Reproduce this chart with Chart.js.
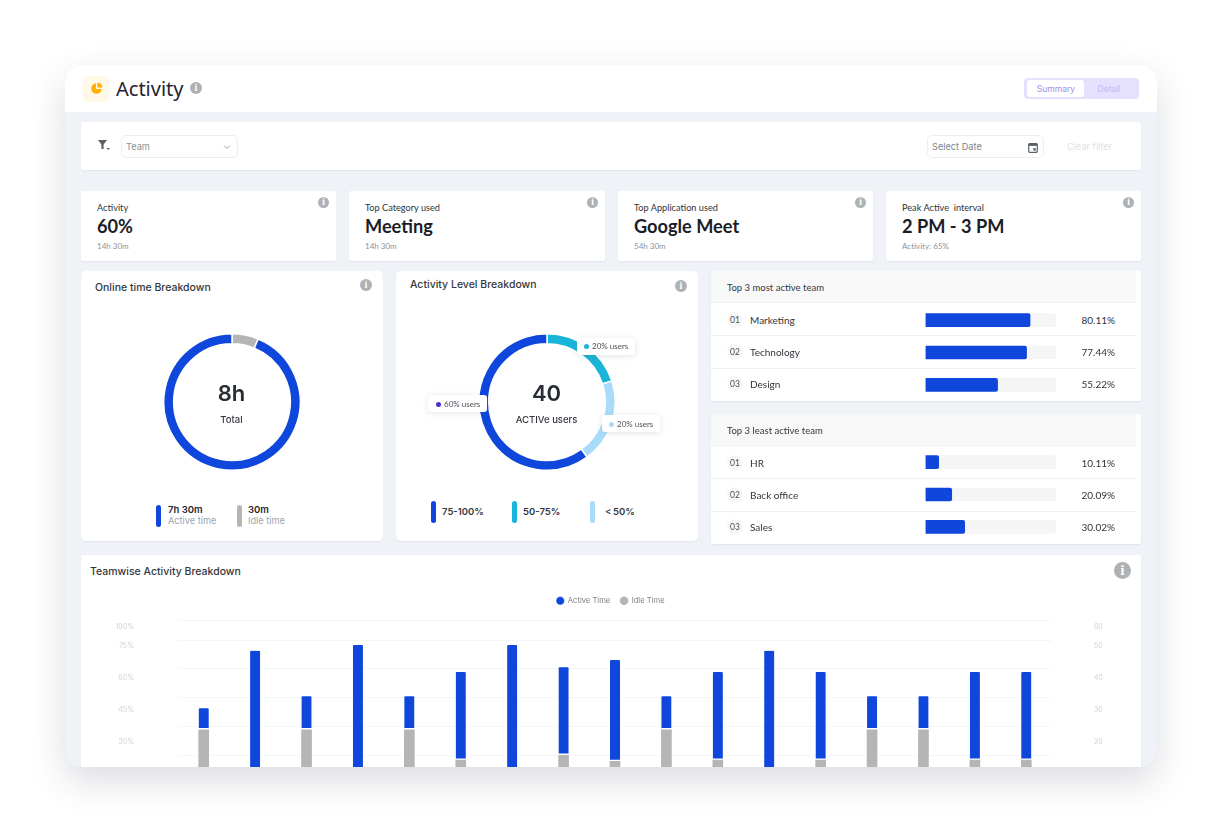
<!DOCTYPE html>
<html>
<head>
<meta charset="utf-8">
<title>Activity</title>
<script src="https://cdn.jsdelivr.net/npm/chart.js@4"></script>
<style>
    html, body { margin: 0; padding: 0; background: #fff; width: 1223px; height: 833px; overflow: hidden; }
    body { font-family: Inter, sans-serif; color: #23272e; }
    #panel { position: absolute; left: 65px; top: 65px; width: 1092px; height: 702px; background: #eff2f7; border-radius: 18px; box-shadow: 0 14px 36px rgba(30, 40, 60, .16); }
    #clip { position: absolute; left: 0; top: 0; width: 1092px; height: 702px; overflow: hidden; border-radius: 18px; }
    #stage { position: absolute; left: -65px; top: -65px; width: 1223px; height: 900px; }
    .box { position: absolute; background: #fff; box-shadow: 0 1px 2px rgba(60, 70, 90, .07); border-radius: 2px; }
    .t { position: absolute; white-space: nowrap; line-height: 0; }
    .c { transform: translateX(-50%); }
    .r { transform: translateX(-100%); }
    .lato { font-family: Lato, sans-serif; }
    .label { font-family: Lato, sans-serif; font-size: 9.2px; color: #30343a; }
    .big { font-family: Lato, sans-serif; font-size: 18.2px; font-weight: 700; color: #1b1d26; }
    .small { font-family: Lato, sans-serif; font-size: 8px; color: #8b9399; }
    .title { font-size: 10.5px; font-weight: 500; color: #34373d; }
    .info { position: absolute; border-radius: 50%; background: #aeb2b5; color: #fff; font-family: "Liberation Serif", serif; font-weight: 700; text-align: center; }
    .pill { position: absolute; width: 5px; height: 22px; border-radius: 3px; }
    .field { position: absolute; top: 135px; height: 21px; border: 1px solid #eceef1; border-radius: 5px; background: #fff; }
    .badge { position: absolute; height: 17px; background: #fff; border-radius: 3px; box-shadow: 0 1px 6px rgba(70, 90, 120, .16); }
    .dot { position: absolute; width: 5px; height: 5px; border-radius: 50%; }
    .badge-text { font-family: Lato, sans-serif; font-size: 8px; color: #4a4f57; }
    .rule { position: absolute; height: 1px; background: #eef0f2; }
    .chip { position: absolute; width: 16px; height: 16px; border-radius: 50%; background: #f7f7f7; }
    canvas { position: absolute; }
</style>
</head>
<body>
<div id="panel"></div>
<div id="clip" style="left:65px;top:65px">
<div id="stage">
    <!-- header -->
    <div style="position:absolute;left:65px;top:65px;width:1092px;height:47px;background:#fff"></div>
    <div style="position:absolute;left:83px;top:76px;width:26px;height:26px;border-radius:5px;background:#fff8e6"></div>
    <svg style="position:absolute;left:90px;top:82px" width="13" height="13" viewBox="0 0 13 13">
        <path d="M6 1.2 A5.3 5.3 0 1 0 11.8 7 L6 7 Z" fill="#ffb000"/>
        <path d="M7.4 .6 A5.2 5.2 0 0 1 12.4 5.6 L7.4 5.6 Z" fill="#ffb000"/>
    </svg>
    <div class="t" style="left:116px;top:89px;font-size:20px;font-weight:400;color:#1f2430;font-family:'Noto Sans',sans-serif">Activity</div>
    <div class="info" style="left:190px;top:82px;width:12px;height:12px;font-size:10px;line-height:12px">i</div>
    <div style="position:absolute;left:1024px;top:78px;width:115px;height:21px;background:#e5e0fd;border-radius:4px"></div>
    <div style="position:absolute;left:1027px;top:80px;width:57px;height:17px;background:#fff;border-radius:3px"></div>
    <div class="t c" style="left:1056px;top:89px;font-size:8.5px;color:#9c8fe6">Summary</div>
    <div class="t c" style="left:1109px;top:89px;font-size:8.5px;color:#c4baf5">Detail</div>

    <!-- filter bar -->
    <div class="box" style="left:81px;top:122px;width:1060px;height:48px"></div>
    <svg style="position:absolute;left:98px;top:140px" width="13" height="12" viewBox="0 0 13 12">
        <path d="M0 0 H9 L5.6 4.4 V9 H3.4 V4.4 Z" fill="#5b6168"/><path d="M8.5 8 H12 L10.2 10 Z" fill="#5b6168"/>
    </svg>
    <div class="field" style="left:121px;width:115px"></div>
    <div class="t" style="left:126px;top:147px;font-size:9.2px;color:#8a9097">Team</div>
    <svg style="position:absolute;left:223px;top:144px" width="8" height="6" viewBox="0 0 8 6"><path d="M1 1.5 L4 4.5 L7 1.5" fill="none" stroke="#9aa0a6" stroke-width="1"/></svg>
    <div class="field" style="left:927px;width:115px"></div>
    <div class="t" style="left:932px;top:147px;font-size:9.2px;color:#7d848b">Select Date</div>
    <svg style="position:absolute;left:1028px;top:142px" width="10" height="11" viewBox="0 0 10 11">
        <rect x=".7" y="1.7" width="8.6" height="8.6" rx="1" fill="none" stroke="#5b6168" stroke-width="1.2"/>
        <rect x=".7" y="1.7" width="8.6" height="2.2" fill="#5b6168"/><rect x="5.4" y="6.2" width="2.4" height="2.4" fill="#5b6168"/>
    </svg>
    <div class="t" style="left:1067px;top:147px;font-size:9.2px;color:#dfe2e6">Clear filter</div>

    <!-- kpi cards -->
    <div class="box" style="left:81px;top:191px;width:255px;height:70px"></div>
    <div class="t label" style="left:97px;top:207.5px">Activity</div>
    <div class="t big" style="left:97px;top:226px">60%</div>
    <div class="t small" style="left:97px;top:246px">14h 30m</div>
    <div class="info" style="left:318px;top:197px;width:11px;height:11px;font-size:9.5px;line-height:11px">i</div>

    <div class="box" style="left:349px;top:191px;width:256px;height:70px"></div>
    <div class="t label" style="left:365px;top:207.5px">Top Category used</div>
    <div class="t big" style="left:365px;top:226px">Meeting</div>
    <div class="t small" style="left:365px;top:246px">14h 30m</div>
    <div class="info" style="left:587px;top:197px;width:11px;height:11px;font-size:9.5px;line-height:11px">i</div>

    <div class="box" style="left:618px;top:191px;width:255px;height:70px"></div>
    <div class="t label" style="left:634px;top:207.5px">Top Application used</div>
    <div class="t big" style="left:634px;top:226px">Google Meet</div>
    <div class="t small" style="left:634px;top:246px">54h 30m</div>
    <div class="info" style="left:855px;top:197px;width:11px;height:11px;font-size:9.5px;line-height:11px">i</div>

    <div class="box" style="left:886px;top:191px;width:255px;height:70px"></div>
    <div class="t label" style="left:902px;top:207.5px">Peak Active&nbsp; interval</div>
    <div class="t big" style="left:902px;top:226px">2 PM - 3 PM</div>
    <div class="t small" style="left:902px;top:246px">Activity: 65%</div>
    <div class="info" style="left:1123px;top:197px;width:11px;height:11px;font-size:9.5px;line-height:11px">i</div>

    <!-- online time -->
    <div class="box" style="left:81px;top:271px;width:302px;height:270px;border-radius:5px"></div>
    <div class="t title" style="left:95px;top:288px">Online time Breakdown</div>
    <div class="info" style="left:360px;top:279px;width:12px;height:12px;font-size:10px;line-height:12px">i</div>
    <canvas id="onlineChart" width="138" height="138" style="left:162.5px;top:333px"></canvas>
    <div class="t c" style="left:231.5px;top:393px;font-size:22px;font-weight:600;color:#282c33">8h</div>
    <div class="t c" style="left:231.5px;top:419.5px;font-size:9.5px;font-weight:500;color:#33373e">Total</div>
    <div class="pill" style="left:156px;top:505px;background:#0f47dd"></div>
    <div class="t" style="left:168px;top:510px;font-size:9.5px;font-weight:600;color:#23272e">7h 30m</div>
    <div class="t" style="left:168px;top:521px;font-size:9.2px;color:#9aa5ae">Active time</div>
    <div class="pill" style="left:237px;top:505px;background:#b5b5b5"></div>
    <div class="t" style="left:248px;top:510px;font-size:9.5px;font-weight:600;color:#23272e">30m</div>
    <div class="t" style="left:248px;top:521px;font-size:9.2px;color:#9aa5ae">Idle time</div>

    <!-- activity level -->
    <div class="box" style="left:396px;top:271px;width:302px;height:270px;border-radius:5px"></div>
    <div class="t title" style="left:410px;top:285px">Activity Level Breakdown</div>
    <div class="info" style="left:675px;top:280px;width:12px;height:12px;font-size:10px;line-height:12px">i</div>
    <canvas id="levelChart" width="138" height="138" style="left:477.5px;top:333px"></canvas>
    <div class="t c" style="left:546.5px;top:393px;font-size:22px;font-weight:600;color:#282c33">40</div>
    <div class="t c" style="left:546.5px;top:419.5px;font-size:9.5px;font-weight:500;color:#33373e">ACTIVe users</div>
    <div class="badge" style="left:428px;top:395px;width:59px"></div>
    <div class="dot" style="left:435.5px;top:401.5px;background:#4a2fd0"></div>
    <div class="t badge-text" style="left:444px;top:404px">60% users</div>
    <div class="badge" style="left:577px;top:338px;width:58px"></div>
    <div class="dot" style="left:583.5px;top:343.5px;background:#19b5d8"></div>
    <div class="t badge-text" style="left:592px;top:346px">20% users</div>
    <div class="badge" style="left:602px;top:415px;width:58px"></div>
    <div class="dot" style="left:609px;top:421.5px;background:#a9dcfb"></div>
    <div class="t badge-text" style="left:617px;top:424px">20% users</div>
    <div class="pill" style="left:431px;top:501px;background:#0f47dd"></div>
    <div class="t" style="left:442px;top:512px;font-size:9.5px;font-weight:600;color:#33373e">75-100%</div>
    <div class="pill" style="left:512px;top:501px;background:#19b5d8"></div>
    <div class="t" style="left:523px;top:512px;font-size:9.5px;font-weight:600;color:#33373e">50-75%</div>
    <div class="pill" style="left:590px;top:501px;background:#a9dcfb"></div>
    <div class="t" style="left:605px;top:512px;font-size:9.5px;font-weight:600;color:#33373e">&lt;&#8201;50%</div>

    <!-- top / least tables -->
    <div id="mostTable" class="box" style="left:711px;top:271px;width:430px;height:130px"></div>
    <div id="leastTable" class="box" style="left:711px;top:414px;width:430px;height:130px"></div>
    <canvas id="mostChart" width="134" height="97" style="left:925px;top:304px"></canvas>
    <canvas id="leastChart" width="134" height="97" style="left:925px;top:446px"></canvas>

    <!-- teamwise -->
    <div class="box" style="left:81px;top:555px;width:1060px;height:260px"></div>
    <div class="t title" style="left:90px;top:572px">Teamwise Activity Breakdown</div>
    <div class="info" style="left:1114px;top:562px;width:17px;height:17px;font-size:14px;line-height:17px">i</div>
    <canvas id="teamChart" width="1061" height="260" style="left:80px;top:556px"></canvas>
</div>
</div>

<script>
    // donuts
    const onlineLabels = ['Idle time', 'Active time'];
    const onlineHours = [0.5, 7.5];
    const levelLabels = ['50-75%', '< 50%', '75-100%'];
    const levelShares = [20, 20, 60];

    // team rankings
    const mostTeams = ['Marketing', 'Technology', 'Design'];
    const mostValues = [80.11, 77.44, 55.22];
    const leastTeams = ['HR', 'Back office', 'Sales'];
    const leastValues = [10.11, 20.09, 30.02];
    const trackValues = [100, 100, 100];

    // teamwise stacked bars, read on the right axis
    const teamCategories = ['T01', 'T02', 'T03', 'T04', 'T05', 'T06', 'T07', 'T08', 'T09', 'T10', 'T11', 'T12', 'T13', 'T14', 'T15', 'T16', 'T17'];
    const activeTime = [6.7, 48.4, 10.5, 50.2, 10.5, 27.6, 50.2, 27.6, 31.7, 10.5, 27.6, 48.4, 27.6, 10.5, 10.5, 27.6, 27.6];
    const idleTime = [23.7, 0, 23.7, 0, 23.7, 14.2, 0, 15.7, 13.8, 23.7, 14.2, 0, 14.2, 23.7, 23.7, 14.2, 14.2];

    // axis ticks (the top label of each axis sits closer than the others in the source)
    const rightTickValues = [20, 30, 40, 50, 55.9];
    const rightTickLabels = ['20', '30', '40', '50', '60'];
    const leftTickValues = [30, 45, 60, 75, 83.85];
    const leftTickLabels = ['30%', '45%', '60%', '75%', '100%'];
    const gridValues = [15.5, 24.7, 33.9, 43, 51.6, 57.9];

    const BLUE = '#0f47dd';
    const GREY = '#b5b5b5';
    const TEAL = '#19b5d8';
    const LIGHT = '#a9dcfb';
    const TRACK = '#f5f5f5';

    Chart.defaults.animation = false;
    Chart.defaults.responsive = false;
    Chart.defaults.plugins.tooltip.enabled = false;

    function drawDonut(id, labels, values, colors) {
        new Chart(document.getElementById(id), {
            type: 'doughnut',
            data: {
                labels: labels,
                datasets: [{ data: values, backgroundColor: colors, borderColor: '#fff', borderWidth: 1.5, hoverOffset: 0 }]
            },
            options: { cutout: '85.5%', plugins: { legend: { display: false } } }
        });
    }

    function drawRanking(id, teams, values) {
        new Chart(document.getElementById(id), {
            type: 'bar',
            data: {
                labels: teams,
                datasets: [
                    { data: values, backgroundColor: BLUE, borderRadius: 2, barThickness: 13, grouped: false, order: 1 },
                    { data: trackValues, backgroundColor: TRACK, borderRadius: 2, barThickness: 13, grouped: false, order: 2 }
                ]
            },
            options: {
                indexAxis: 'y',
                layout: { padding: { left: 0.5, right: 3 } },
                plugins: { legend: { display: false } },
                scales: {
                    x: { display: false, min: 0, max: 100 },
                    y: { display: false }
                }
            }
        });
    }

    // rows of a ranking table, row centres come from the header height
    function fillTable(title, teams, values, top) {
        const stage = document.getElementById('stage');
        const add = (cls, css, text) => {
            const el = document.createElement('div');
            el.className = cls;
            el.style.cssText = css;
            if (text) el.textContent = text;
            stage.appendChild(el);
        };
        add('', `position:absolute;left:711px;top:${top}px;width:425px;height:31px;background:#f8f8f8`);
        add('rule', `left:711px;top:${top + 31}px;width:425px`);
        add('t lato', `left:727px;top:${top + 16.5}px;font-size:9.5px;color:#33373e`, title);
        teams.forEach((team, i) => {
            const y = top + 49 + i * 32;
            if (i > 0) add('rule', `left:711px;top:${top + 31 + i * 33}px;width:425px`);
            add('chip', `left:727px;top:${y - 8}px`);
            add('t c lato', `left:735px;top:${y}px;font-size:8.5px;color:#4a4f57`, '0' + (i + 1));
            add('t lato', `left:750px;top:${y}px;font-size:10px;color:#30343a`, team);
            add('t r lato', `left:1115px;top:${y}px;font-size:10px;color:#30343a`, values[i].toFixed(2) + '%');
        });
    }

    // ticks.padding is also added above and below a vertical axis, so it is removed again here
    function fitAxis(axis, width) {
        axis.width = width;
        axis.paddingTop = 0;
        axis.paddingBottom = 0;
    }

    function drawTeamChart() {
        new Chart(document.getElementById('teamChart'), {
            type: 'bar',
            data: {
                labels: teamCategories,
                datasets: [
                    { label: 'Idle Time', data: idleTime, backgroundColor: GREY, barThickness: 10, yAxisID: 'y', pointStyle: 'circle' },
                    {
                        label: 'Active Time', data: activeTime, backgroundColor: BLUE, barThickness: 10, yAxisID: 'y',
                        borderRadius: 1, borderSkipped: false, borderColor: '#fff',
                        borderWidth: { bottom: 2, top: 0, left: 0, right: 0 }, pointStyle: 'circle'
                    }
                ]
            },
            options: {
                layout: { padding: { top: 31, bottom: 10.6 } },
                plugins: {
                    legend: {
                        position: 'top',
                        reverse: true,
                        labels: {
                            usePointStyle: true, boxHeight: 6, padding: 10,
                            font: { family: 'Inter', size: 7.6 }, color: '#7b8188'
                        }
                    }
                },
                scales: {
                    x: { display: false, stacked: true },
                    y: {
                        position: 'right', stacked: true, min: 0, max: 59.75,
                        border: { display: false },
                        grid: { display: false, drawTicks: false },
                        afterBuildTicks: (axis) => { axis.ticks = rightTickValues.map((v) => ({ value: v })); },
                        afterFit: (axis) => fitAxis(axis, 89),
                        ticks: {
                            autoSkip: false, padding: 42, color: '#cfd2d6', font: { family: 'Inter', size: 7 },
                            callback: (v, i) => rightTickLabels[i]
                        }
                    },
                    yLeft: {
                        position: 'left', min: 0, max: 89.6,
                        border: { display: false },
                        grid: { display: false, drawTicks: false },
                        afterBuildTicks: (axis) => { axis.ticks = leftTickValues.map((v) => ({ value: v })); },
                        afterFit: (axis) => fitAxis(axis, 98),
                        ticks: {
                            autoSkip: false, padding: 44, color: '#cfd2d6', font: { family: 'Inter', size: 7 },
                            callback: (v, i) => leftTickLabels[i]
                        }
                    },
                    yGrid: {
                        position: 'left', min: 0, max: 59.75,
                        border: { display: false },
                        grid: { color: '#f5f6f8', drawTicks: false },
                        afterBuildTicks: (axis) => { axis.ticks = gridValues.map((v) => ({ value: v })); },
                        afterFit: (axis) => fitAxis(axis, 0),
                        ticks: { display: false, autoSkip: false }
                    }
                }
            }
        });
    }

    document.addEventListener('DOMContentLoaded', function () {
        drawDonut('onlineChart', onlineLabels, onlineHours, [GREY, BLUE]);
        drawDonut('levelChart', levelLabels, levelShares, [TEAL, LIGHT, BLUE]);
        fillTable('Top 3 most active team', mostTeams, mostValues, 271);
        fillTable('Top 3 least active team', leastTeams, leastValues, 414);
        drawRanking('mostChart', mostTeams, mostValues);
        drawRanking('leastChart', leastTeams, leastValues);
        drawTeamChart();
    });
</script>
</body>
</html>
